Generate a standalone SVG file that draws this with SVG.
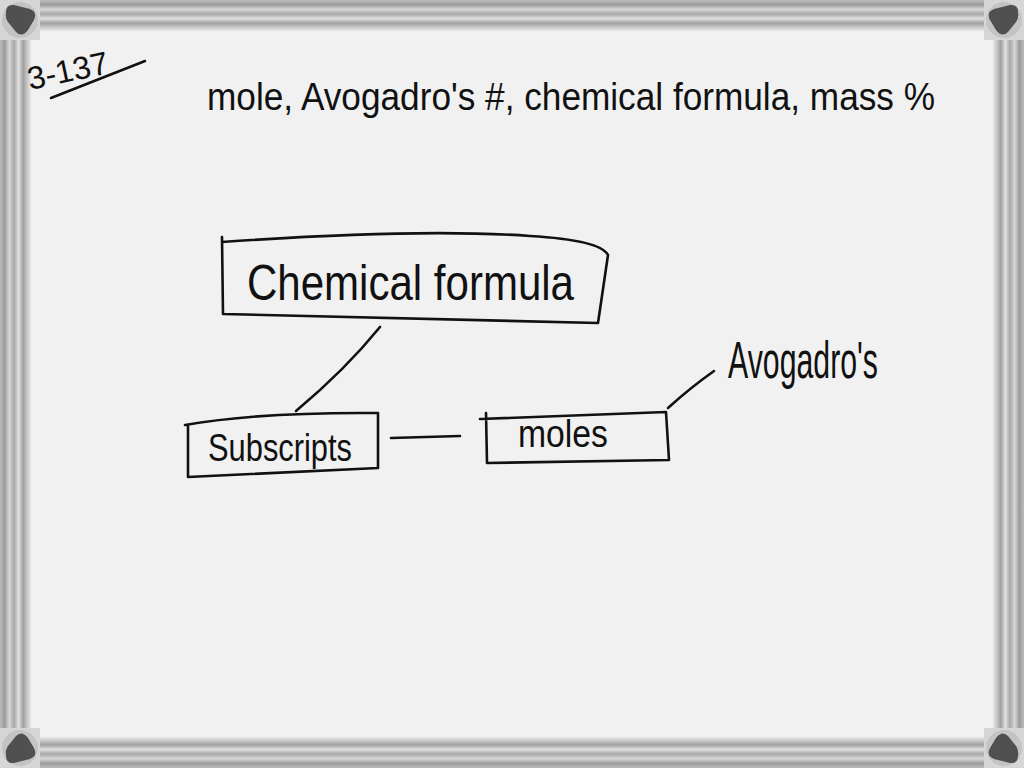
<svg xmlns="http://www.w3.org/2000/svg" width="1024" height="768" viewBox="0 0 1024 768">
<defs>
<linearGradient id="hband" x1="0" y1="0" x2="0" y2="1">
<stop offset="0" stop-color="#bdbdbd"/><stop offset="0.15" stop-color="#9a9a9a"/><stop offset="0.3" stop-color="#d8d8d8"/><stop offset="0.45" stop-color="#a8a8a8"/><stop offset="0.6" stop-color="#e0e0e0"/><stop offset="0.75" stop-color="#a0a0a0"/><stop offset="0.88" stop-color="#c8c8c8"/><stop offset="1" stop-color="#e8e8e8"/>
</linearGradient>
<linearGradient id="hbandB" x1="0" y1="1" x2="0" y2="0">
<stop offset="0" stop-color="#bdbdbd"/><stop offset="0.15" stop-color="#9a9a9a"/><stop offset="0.3" stop-color="#d8d8d8"/><stop offset="0.45" stop-color="#a8a8a8"/><stop offset="0.6" stop-color="#e0e0e0"/><stop offset="0.75" stop-color="#a0a0a0"/><stop offset="0.88" stop-color="#c8c8c8"/><stop offset="1" stop-color="#e8e8e8"/>
</linearGradient>
<linearGradient id="vband" x1="0" y1="0" x2="1" y2="0">
<stop offset="0" stop-color="#bdbdbd"/><stop offset="0.15" stop-color="#9a9a9a"/><stop offset="0.3" stop-color="#d8d8d8"/><stop offset="0.45" stop-color="#a8a8a8"/><stop offset="0.6" stop-color="#e0e0e0"/><stop offset="0.75" stop-color="#a0a0a0"/><stop offset="0.88" stop-color="#c8c8c8"/><stop offset="1" stop-color="#e8e8e8"/>
</linearGradient>
<linearGradient id="vbandR" x1="1" y1="0" x2="0" y2="0">
<stop offset="0" stop-color="#bdbdbd"/><stop offset="0.15" stop-color="#9a9a9a"/><stop offset="0.3" stop-color="#d8d8d8"/><stop offset="0.45" stop-color="#a8a8a8"/><stop offset="0.6" stop-color="#e0e0e0"/><stop offset="0.75" stop-color="#a0a0a0"/><stop offset="0.88" stop-color="#c8c8c8"/><stop offset="1" stop-color="#e8e8e8"/>
</linearGradient>
<g id="corner">
<rect x="0" y="0" width="40" height="40" fill="#d6d6d6"/>
<circle cx="20" cy="20" r="18" fill="#c4c4c4"/>
<path d="M6,12 Q6,4 14,5 L30,9 Q38,12 34,20 L28,30 Q22,38 16,32 L8,22 Q5,18 6,12 Z" fill="#505050"/>
</g>
</defs>
<style>
.ink{fill:none;stroke:#111;stroke-width:2.6;stroke-linecap:round;stroke-linejoin:round}
.hw{font-family:"Liberation Sans","DejaVu Sans",sans-serif;fill:#111}
</style>
<rect width="1024" height="768" fill="#f1f1f1"/>
<g id="frame">
<rect x="0" y="0" width="1024" height="31" fill="url(#hband)"/>
<rect x="0" y="737" width="1024" height="31" fill="url(#hbandB)"/>
<rect x="0" y="0" width="31" height="768" fill="url(#vband)"/>
<rect x="993" y="0" width="31" height="768" fill="url(#vbandR)"/>
<use href="#corner" x="0" y="0"/>
<use href="#corner" transform="translate(1024,0) scale(-1,1)"/>
<use href="#corner" transform="translate(0,768) scale(1,-1)"/>
<use href="#corner" transform="translate(1024,768) scale(-1,-1)"/>
</g>
<g id="header">
<text class="hw" x="30" y="90" font-size="32" transform="rotate(-12 30 90)">3-137</text>
<path class="ink" d="M51,98 L145,61"/>
<text class="hw" x="207" y="110" font-size="38" textLength="728" lengthAdjust="spacingAndGlyphs">mole, Avogadro's #,  chemical  formula, mass %</text>
</g>
<g id="connectors">
<path class="ink" d="M380,327 Q345,370 296,411"/>
<path class="ink" d="M391,438 L460,436"/>
<path class="ink" d="M668,408 Q690,388 714,371"/>
</g>
<g id="node-chemical-formula">
<path class="ink" d="M222,237 L223,314 L598,323 L608,255 Q600,240 530,236 Q420,228 222,242"/>
<text class="hw" x="247" y="300" font-size="50" textLength="327" lengthAdjust="spacingAndGlyphs">Chemical formula</text>
</g>
<g id="node-subscripts">
<path class="ink" d="M185,425 Q260,412 378,413 L378,468 L188,477 L188,426"/>
<text class="hw" x="208" y="461" font-size="38" textLength="144" lengthAdjust="spacingAndGlyphs">Subscripts</text>
</g>
<g id="node-moles">
<path class="ink" d="M486,413 L487,463 L669,460 L666,412 L480,419"/>
<text class="hw" x="518" y="447" font-size="38" textLength="90" lengthAdjust="spacingAndGlyphs">moles</text>
</g>
<g id="node-avogadros">
<text class="hw" x="728" y="378" font-size="52" textLength="150" lengthAdjust="spacingAndGlyphs">Avogadro's</text>
</g>
</svg>
